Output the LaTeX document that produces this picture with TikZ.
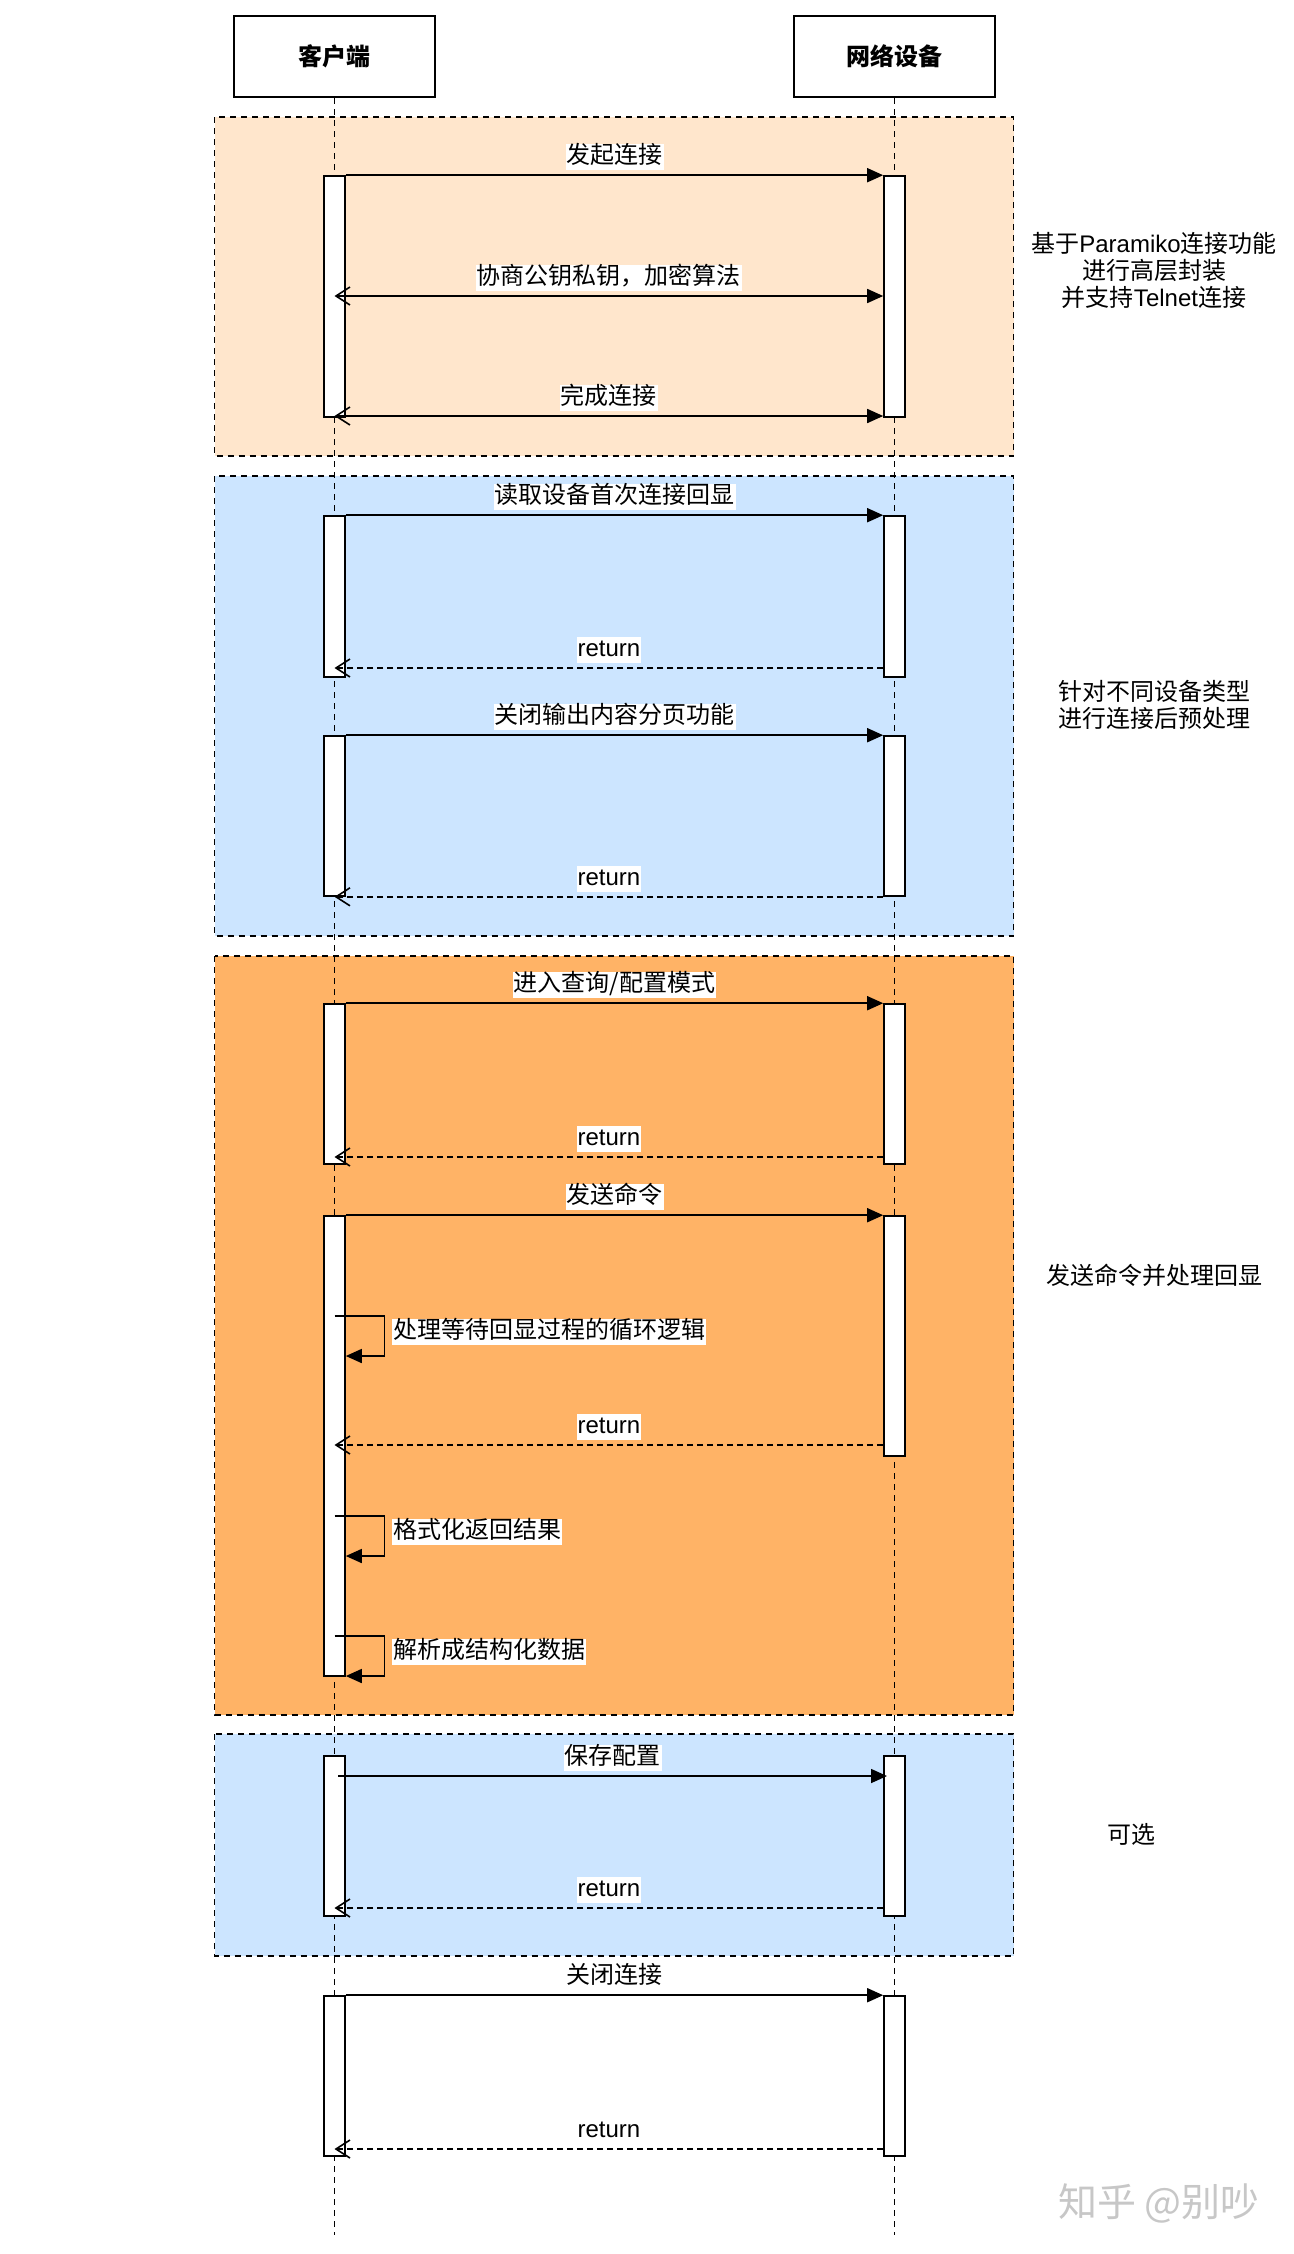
\documentclass[tikz,border=0pt]{standalone}
\usepackage{fontspec}
\setmainfont{Noto Sans CJK SC}
\newfontfamily\latinfont{Liberation Sans}
\usetikzlibrary{arrows.meta, positioning, fit}

\definecolor{peach}{HTML}{FFE6CC}
\definecolor{skyblue}{HTML}{CCE5FF}
\definecolor{amber}{HTML}{FFB366}

\begin{document}
\begin{tikzpicture} [x=0.5pt, y=-0.5pt,
    every node/.style = {font=\fontsize{12pt}{14pt}\selectfont},
    hdr/.style = {draw, line width=1pt, minimum width=100.5pt,
        minimum height=40.5pt, font=\fontsize{12pt}{14pt}\selectfont\bfseries},
    bar/.style = {draw, fill=white, line width=0.8pt, inner sep=0pt},
    lbl/.style = {fill=white, inner sep=0.5pt, text height=9pt, text depth=3pt},
    note/.style = {align=center, font=\fontsize{12pt}{13.5pt}\selectfont},
    grp/.style = {dash pattern=on 3pt off 2.5pt, line width=0.8pt},
    life/.style = {dash pattern=on 3pt off 2.5pt, line width=0.6pt},
    msg/.style = {-{Triangle[length=8pt, width=7pt]}, line width=0.8pt},
    both/.style = {{Straight Barb[length=7pt, width=9pt]}-{Triangle[length=8pt, width=7pt]},
        line width=0.8pt},
    ret/.style = {-{Straight Barb[length=7pt, width=9pt]}, line width=0.8pt,
        dash pattern=on 3pt off 2pt}]
    \useasboundingbox (0,0) rectangle (1294,2254);
    % \draw [help lines] (0,0) grid [step=100] (1294,2254);

    % groups
    \draw [grp, fill=peach] (214.5,117) rectangle (1013.5,456);
    \draw [grp, fill=skyblue] (214.5,476) rectangle (1013.5,936);
    \draw [grp, fill=amber] (214.5,956) rectangle (1013.5,1715);
    \draw [grp, fill=skyblue] (214.5,1734) rectangle (1013.5,1956);

    % lifelines
    \node (cli) [hdr] at (334.5,56.5) {客户端};
    \node (dev) [hdr] at (894.5,56.5) {网络设备};
    \coordinate (cliend) at (334.5,2235);
    \coordinate (devend) at (894.5,2235);
    \draw [life] (cli) -- (cliend);
    \draw [life] (dev) -- (devend);

    % activation bars
    \foreach \n/\t/\b in {1/176/417, 2/516/677, 3/736/896,
        4/1004/1164, 6/1756/1916, 7/1996/2156} {
        \node (c\n) [bar, fit={(324,\t) (345,\b)}] {};
        \node (d\n) [bar, fit={(884,\t) (905,\b)}] {};
    }
    \node (c5) [bar, fit={(324,1216) (345,1676)}] {};
    \node (d5) [bar, fit={(884,1216) (905,1456)}] {};

    % message heights
    \coordinate (y12) at (0,296);
    \coordinate (y13) at (0,416);
    \coordinate (r2) at (0,668);
    \coordinate (r4) at (0,1157);
    \coordinate (r5) at (0,1445);
    \coordinate (s51) at (0,1316);
    \coordinate (s52) at (0,1356);
    \coordinate (s53) at (0,1516);
    \coordinate (s54) at (0,1556);
    \coordinate (s55) at (0,1636);
    \coordinate (s56) at (0,1676);
    \coordinate (r6) at (0,1908);
    \coordinate (r7) at (0,2149);
    \coordinate (sv1) at (338,1776);
    \coordinate (sv2) at (887,1776);

    % connect
    \draw [msg] (c1.north east) -- node [lbl, above=2pt] {发起连接} (d1.north west);
    \draw [both] (c1.center |- y12) -- node [lbl, above=2pt] {协商公钥私钥，加密算法} (d1.west |- y12);
    \draw [both] (c1.center |- y13) -- node [lbl, above=2pt] {完成连接} (d1.west |- y13);

    % preprocessing
    \draw [msg] (c2.north east) -- node [lbl, above=2pt] {读取设备首次连接回显} (d2.north west);
    \draw [ret] (d2.west |- r2) -- node [lbl, above=2pt] {\latinfont return} (c2.center |- r2);
    \draw [msg] (c3.north east) -- node [lbl, above=2pt] {关闭输出内容分页功能} (d3.north west);
    \draw [ret] (d3.south west) -- node [lbl, above=2pt] {\latinfont return} (c3.south);

    % commands
    \draw [msg] (c4.north east) -- node [lbl, above=2pt] {进入查询/配置模式} (d4.north west);
    \draw [ret] (d4.west |- r4) -- node [lbl, above=2pt] {\latinfont return} (c4.center |- r4);
    \draw [msg] (c5.north east) -- node [lbl, above=2pt] {发送命令} (d5.north west);
    \draw [msg] (c5.center |- s51) -- ++(50,0) |- (c5.east |- s52);
    \node (l51) [lbl, anchor=west] at (392,1332) {处理等待回显过程的循环逻辑};
    \draw [ret] (d5.west |- r5) -- node [lbl, above=2pt] {\latinfont return} (c5.center |- r5);
    \draw [msg] (c5.center |- s53) -- ++(50,0) |- (c5.east |- s54);
    \node (l53) [lbl, anchor=west] at (392,1532) {格式化返回结果};
    \draw [msg] (c5.center |- s55) -- ++(50,0) |- (c5.east |- s56);
    \node (l55) [lbl, anchor=west] at (392,1652) {解析成结构化数据};

    % save
    \draw [msg] (sv1) -- node [lbl, above=2pt] {保存配置} (sv2);
    \draw [ret] (d6.west |- r6) -- node [lbl, above=2pt] {\latinfont return} (c6.center |- r6);

    % close
    \draw [msg] (c7.north east) -- node [lbl, above=2pt] {关闭连接} (d7.north west);
    \draw [ret] (d7.west |- r7) -- node [lbl, above=2pt] {\latinfont return} (c7.center |- r7);

    % notes
    \node (n1) [note] at (1154,270) {基于{\latinfont Paramiko}连接功能\\进行高层封装\\并支持{\latinfont Telnet}连接};
    \node (n2) [note] at (1154,705) {针对不同设备类型\\进行连接后预处理};
    \node (n3) [note] at (1154,1275) {发送命令并处理回显};
    \node (n4) [note] at (1131,1834) {可选};

    \node (wm) [text=black!22, font=\fontsize{19.5pt}{21pt}\selectfont] at (1159,2203) {知乎 @别吵};
\end{tikzpicture}
\end{document}
